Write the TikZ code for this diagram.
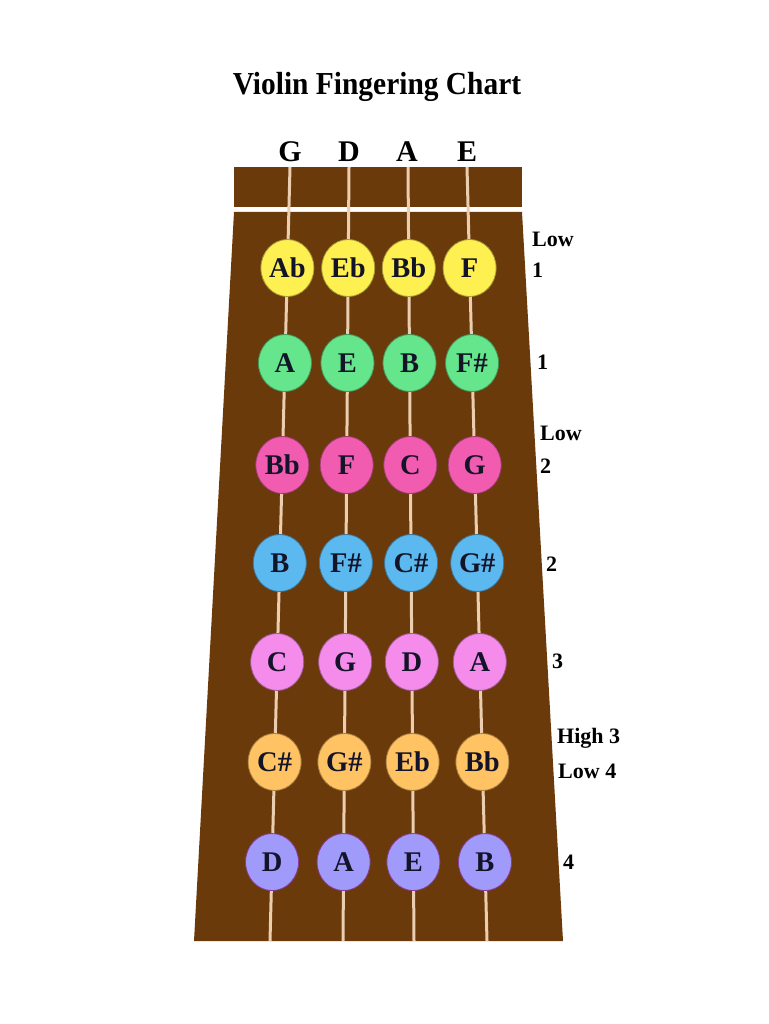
\documentclass[tikz,border=0pt]{standalone}
\usepackage{fontspec}
\setmainfont{Liberation Serif}
\usetikzlibrary{shapes.geometric,calc}
\definecolor{board}{HTML}{6B3A0B}
\definecolor{strg}{HTML}{EBCDAF}
\definecolor{cyel}{HTML}{FFF052}
\definecolor{cgrn}{HTML}{66E68C}
\definecolor{cpnk}{HTML}{F25CB0}
\definecolor{cblu}{HTML}{5CB9F0}
\definecolor{cvio}{HTML}{F58CEB}
\definecolor{corg}{HTML}{FFC364}
\definecolor{clav}{HTML}{A09BFA}
\definecolor{lavrim}{HTML}{8A3C9A}
\definecolor{ink}{HTML}{141428}
\tikzset{
  note/.style={ellipse, fill=#1, draw=#1!65!black, line width=0.8pt,
    minimum width=53pt, minimum height=57pt, inner sep=0pt,
    text=ink, font=\fontsize{28.5}{30}\selectfont\bfseries},
  strline/.style={draw=strg, line width=3pt},
  side/.style={anchor=west, font=\fontsize{22}{24}\selectfont\bfseries, inner sep=0pt},
  strname/.style={anchor=base, font=\fontsize{30}{32}\selectfont\bfseries, inner sep=0pt},
}
\begin{document}
\begin{tikzpicture}[x=1pt,y=-1pt]
\useasboundingbox (0,0) rectangle (768,1024);
% nut block and fingerboard
\fill[board] (234,167) rectangle (522,207);
\fill[board] (234,212) -- (522,212) -- (563,941) -- (194,941) -- cycle;
% strings
\coordinate (G1) at (290,167); \coordinate (G2) at (270,941);
\coordinate (D1) at (349,167); \coordinate (D2) at (343,941);
\coordinate (A1) at (408,167); \coordinate (A2) at (414,941);
\coordinate (E1) at (467,167); \coordinate (E2) at (487,941);
\foreach \s in {G,D,A,E} { \draw[strline] (\s1) -- (\s2); }
% title
\node[anchor=base, font=\fontsize{32}{34}\selectfont\bfseries, inner sep=0pt, xscale=0.92, transform shape] (title) at (377,95) {Violin Fingering Chart};
% string names
\node[strname] (lG) at (290,162) {G};
\node[strname] (lD) at (349,162) {D};
\node[strname] (lA) at (407,162) {A};
\node[strname] (lE) at (467,162) {E};
% notes
\foreach \r/\f/\c/\a/\b/\cc/\d in {
  1/0.1305/cyel/Ab/Eb/Bb/F,
  2/0.2532/cgrn/A/E/B/F\#,
  3/0.3850/cpnk/Bb/F/C/G,
  4/0.5116/cblu/B/F\#/C\#/G\#,
  5/0.6395/cvio/C/G/D/A,
  6/0.7687/corg/C\#/G\#/Eb/Bb} {
  \node[note=\c] (n\r G) at ($(G1)!\f!(G2)$) {\a};
  \node[note=\c] (n\r D) at ($(D1)!\f!(D2)$) {\b};
  \node[note=\c] (n\r A) at ($(A1)!\f!(A2)$) {\cc};
  \node[note=\c] (n\r E) at ($(E1)!\f!(E2)$) {\d};
}
\foreach \s/\t in {G/D,D/A,A/E,E/B} {
  \node[note=clav, draw=lavrim] (n7\s) at ($(\s1)!0.898!(\s2)$) {\t};
}
% finger labels
\node[side] (s1a) at (532,239) {Low};
\node[side] (s1b) at (532,270) {1};
\node[side] (s2) at (537,362) {1};
\node[side] (s3a) at (540,433) {Low};
\node[side] (s3b) at (540,466) {2};
\node[side] (s4) at (546,564) {2};
\node[side] (s5) at (552,661) {3};
\node[side] (s6a) at (557,738) {High 3};
\node[side] (s6b) at (558,771) {Low 4};
\node[side] (s7) at (563,862) {4};
\end{tikzpicture}
\end{document}
